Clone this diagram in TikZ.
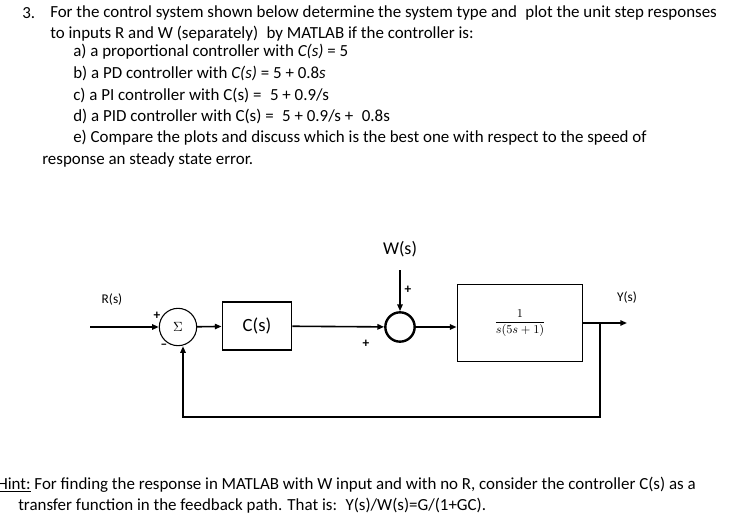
\documentclass[tikz,border=0pt]{standalone}
\usepackage{fontspec}
\setmainfont{Carlito}
\usetikzlibrary{arrows.meta}
\begin{document}
\begin{tikzpicture}[x=0.75pt,y=-0.75pt,
  txt/.style={anchor=west,inner sep=0,font=\fontsize{12.7}{14}\selectfont},
  blk/.style={draw,line width=1.2pt,inner sep=0},
  sig/.style={line width=1.2pt,-{Triangle[length=5pt,width=4pt]}},
  lbl/.style={inner sep=0,font=\fontsize{10}{12}\selectfont},
  pm/.style={inner sep=0,font=\bfseries\fontsize{10}{12}\selectfont}]
\useasboundingbox (0,0) rectangle (745,527);
\node[txt] (t1) at (22,13) {3.};
\node[txt] (t1b) at (50,13) {For the control system shown below determine the system type and\enspace plot the unit step responses};
\node[txt] (t2) at (50,34) {to inputs R and W (separately)\enspace by MATLAB if the controller is:};
\node[txt] (ta) at (73,52) {a) a proportional controller with \textit{C(s)} = 5};
\node[txt] (tb) at (73,73) {b) a PD controller with \textit{C(s)} = 5 + 0.8\textit{s}};
\node[txt] (tc) at (73,95) {c) a PI controller with C(s) =\enspace 5 + 0.9/s};
\node[txt] (td) at (73,116) {d) a PID controller with C(s) =\enspace 5 + 0.9/s +\enspace 0.8s};
\node[txt] (te) at (73,138) {e) Compare the plots and discuss which is the best one with respect to the speed of};
\node[txt] (tf) at (42,160) {response an steady state error.};
\node[txt] (h1) at (-3,485) {\underline{Hint:} For finding the response in MATLAB with W input and with no R, consider the controller C(s) as a};
\node[txt] (h2) at (18,506) {transfer function in the feedback path. That is:\enspace Y(s)/W(s)=G/(1+GC).};

% block diagram
\node[draw,circle,line width=0.8pt,minimum size=28pt,inner sep=0] (s1) at (178,327) {\fontsize{10}{12}\selectfont$\Sigma$};
\node[blk,minimum width=52pt,minimum height=36pt] (C) at (257,326) {\fontsize{14}{15}\selectfont C(s)};
\node[draw,circle,line width=1.8pt,minimum size=22pt,inner sep=0] (s2) at (400,327) {};
\node[blk,minimum width=94pt,minimum height=58pt] (G) at (520,323) {\fontsize{9.5}{11}\selectfont\rmfamily$\displaystyle\frac{1}{s(5s+1)}$};
\coordinate (in) at (90,327);
\coordinate (out) at (627,323);
\coordinate (br) at (600,323);
\coordinate (fb1) at (600,417);
\coordinate (fb2) at (183,417);
\coordinate (w) at (400,270);
\draw[sig] (in) -- (s1);
\draw[sig] (s1) -- (C);
\draw[sig] (C) -- (s2);
\draw[sig] (s2) -- (s2 -| G.west);
\draw[sig] (G.east |- out) -- (out);
\draw[sig] (br) -- (fb1) -- (fb2) -- (s1.south -| fb2);
\draw[sig] (w) -- (s2);
\node[font=\fontsize{13.5}{14}\selectfont,inner sep=0] (W) at (400,249) {W(s)};
\node[lbl] (R) at (112,300) {R(s)};
\node[lbl] (Y) at (627,298) {Y(s)};
\node[pm] (p1) at (157,316) {+};
\node[pm] (m1) at (164,346) {--};
\node[pm] (p2) at (408,290) {+};
\node[pm] (p3) at (366,344) {+};
\end{tikzpicture}
\end{document}
